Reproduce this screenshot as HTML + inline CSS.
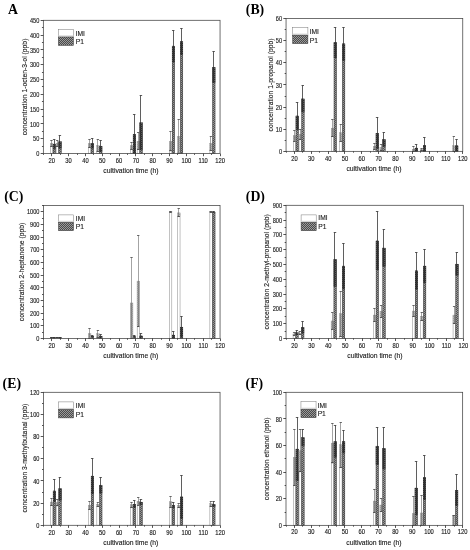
<!DOCTYPE html><html><head><meta charset="utf-8"><title>Figure</title><style>html,body{margin:0;padding:0;background:#fff}svg{display:block}text{font-family:"Liberation Sans",Arial,sans-serif;fill:#1a1a1a;stroke:#1a1a1a;stroke-width:0.12px}.pl{font-family:"Liberation Serif","Times New Roman",serif;font-weight:bold;fill:#000;stroke:none}</style></head><body>
<svg width="470" height="550" viewBox="0 0 470 550">
<defs>
<pattern id="hm" width="2" height="2" patternUnits="userSpaceOnUse"><path d="M0 0h1v1h-1zM1 1h1v1h-1z" fill="#969696"/></pattern>
<pattern id="hd" width="2" height="2" patternUnits="userSpaceOnUse"><path d="M0 0h1v1h-1zM1 1h1v1h-1z" fill="#5a5a5a"/></pattern>
<pattern id="hl" width="2" height="2" patternUnits="userSpaceOnUse"><path d="M0 0h1v1h-1zM1 1h1v1h-1z" fill="#bababa"/></pattern>
<pattern id="hg" width="2" height="2" patternUnits="userSpaceOnUse"><path d="M0 0h1v1h-1zM1 1h1v1h-1z" fill="#9a9a9a"/></pattern>
</defs>
<rect width="470" height="550" fill="#fff"/>
<g id="panelA">
<rect x="50.4" y="146.19" width="2.35" height="7.41" fill="#fff" stroke="#787878" stroke-width="0.45"/>
<rect x="50.25" y="143.53" width="2.65" height="2.67" fill="#a0a0a0"/>
<rect x="50.25" y="143.53" width="2.65" height="2.67" fill="url(#hl)" stroke="#8a8a8a" stroke-width="0.3"/>
<path d="M51.5 146.19V140.5" stroke="#666" stroke-width="0.6" fill="none"/>
<path d="M50.25 140.5H52.65M50.25 146.5H52.65" stroke="#333" stroke-width="0.7" fill="none"/>
<rect x="53" y="144.12" width="2.65" height="9.48" fill="#525252"/>
<rect x="53.1" y="144.12" width="2.45" height="9.48" fill="url(#hm)" stroke="#3a3a3a" stroke-width="0.4"/>
<rect x="52.9" y="144.12" width="2.85" height="4.44" fill="#2c2c2c"/>
<rect x="53" y="144.12" width="2.65" height="4.44" fill="url(#hd)"/>
<path d="M54.5 148.56V139.5" stroke="#2a2a2a" stroke-width="0.75" fill="none"/>
<path d="M52.9 139.5H55.4" stroke="#2a2a2a" stroke-width="0.75" fill="none"/>
<rect x="56.11" y="146.19" width="2.35" height="7.41" fill="#fff" stroke="#787878" stroke-width="0.45"/>
<rect x="55.96" y="143.23" width="2.65" height="2.96" fill="#a0a0a0"/>
<rect x="55.96" y="143.23" width="2.65" height="2.96" fill="url(#hl)" stroke="#8a8a8a" stroke-width="0.3"/>
<path d="M57.5 146.19V140.5" stroke="#666" stroke-width="0.6" fill="none"/>
<path d="M55.96 140.5H58.36M55.96 146.5H58.36" stroke="#333" stroke-width="0.7" fill="none"/>
<rect x="58.71" y="141.75" width="2.65" height="11.85" fill="#525252"/>
<rect x="58.81" y="141.75" width="2.45" height="11.85" fill="url(#hm)" stroke="#3a3a3a" stroke-width="0.4"/>
<rect x="58.61" y="141.75" width="2.85" height="6.52" fill="#2c2c2c"/>
<rect x="58.71" y="141.75" width="2.65" height="6.52" fill="url(#hd)"/>
<path d="M59.5 148.27V135.5" stroke="#2a2a2a" stroke-width="0.75" fill="none"/>
<path d="M58.61 135.5H61.11" stroke="#2a2a2a" stroke-width="0.75" fill="none"/>
<rect x="88.42" y="147.53" width="2.35" height="6.07" fill="#fff" stroke="#787878" stroke-width="0.45"/>
<rect x="88.27" y="143.53" width="2.65" height="4" fill="#a0a0a0"/>
<rect x="88.27" y="143.53" width="2.65" height="4" fill="url(#hl)" stroke="#8a8a8a" stroke-width="0.3"/>
<path d="M89.5 147.53V139.5" stroke="#666" stroke-width="0.6" fill="none"/>
<path d="M88.27 139.5H90.67M88.27 147.5H90.67" stroke="#333" stroke-width="0.7" fill="none"/>
<rect x="91.02" y="143.53" width="2.65" height="10.07" fill="#525252"/>
<rect x="91.12" y="143.53" width="2.45" height="10.07" fill="url(#hm)" stroke="#3a3a3a" stroke-width="0.4"/>
<rect x="90.92" y="143.53" width="2.85" height="4.74" fill="#2c2c2c"/>
<rect x="91.02" y="143.53" width="2.65" height="4.74" fill="url(#hd)"/>
<path d="M92.5 148.27V138.5" stroke="#2a2a2a" stroke-width="0.75" fill="none"/>
<path d="M90.92 138.5H93.42" stroke="#2a2a2a" stroke-width="0.75" fill="none"/>
<rect x="96.83" y="151.53" width="2.35" height="2.07" fill="#fff" stroke="#787878" stroke-width="0.45"/>
<rect x="96.68" y="145.6" width="2.65" height="5.92" fill="#a0a0a0"/>
<rect x="96.68" y="145.6" width="2.65" height="5.92" fill="url(#hl)" stroke="#8a8a8a" stroke-width="0.3"/>
<path d="M97.5 151.53V139.5" stroke="#666" stroke-width="0.6" fill="none"/>
<path d="M96.68 139.5H99.08M96.68 151.5H99.08" stroke="#333" stroke-width="0.7" fill="none"/>
<rect x="99.43" y="146.19" width="2.65" height="7.41" fill="#525252"/>
<rect x="99.53" y="146.19" width="2.45" height="7.41" fill="url(#hm)" stroke="#3a3a3a" stroke-width="0.4"/>
<rect x="99.33" y="146.19" width="2.85" height="5.63" fill="#2c2c2c"/>
<rect x="99.43" y="146.19" width="2.65" height="5.63" fill="url(#hd)"/>
<path d="M100.5 151.82V140.5" stroke="#2a2a2a" stroke-width="0.75" fill="none"/>
<path d="M99.33 140.5H101.83" stroke="#2a2a2a" stroke-width="0.75" fill="none"/>
<rect x="130.45" y="149.16" width="2.35" height="4.44" fill="#fff" stroke="#787878" stroke-width="0.45"/>
<rect x="130.3" y="145.6" width="2.65" height="3.55" fill="#a0a0a0"/>
<rect x="130.3" y="145.6" width="2.65" height="3.55" fill="url(#hl)" stroke="#8a8a8a" stroke-width="0.3"/>
<path d="M131.5 149.16V142.5" stroke="#666" stroke-width="0.6" fill="none"/>
<path d="M130.3 142.5H132.7M130.3 149.5H132.7" stroke="#333" stroke-width="0.7" fill="none"/>
<rect x="133.05" y="134.35" width="2.65" height="19.25" fill="#525252"/>
<rect x="133.15" y="134.35" width="2.45" height="19.25" fill="url(#hm)" stroke="#3a3a3a" stroke-width="0.4"/>
<rect x="132.95" y="134.35" width="2.85" height="19.25" fill="#2c2c2c"/>
<rect x="133.05" y="134.35" width="2.65" height="19.25" fill="url(#hd)"/>
<path d="M134.5 153.6V114.5" stroke="#2a2a2a" stroke-width="0.75" fill="none"/>
<path d="M132.95 114.5H135.45" stroke="#2a2a2a" stroke-width="0.75" fill="none"/>
<rect x="137.15" y="149.45" width="2.35" height="4.15" fill="#fff" stroke="#787878" stroke-width="0.45"/>
<rect x="137" y="141.16" width="2.65" height="8.29" fill="#a0a0a0"/>
<rect x="137" y="141.16" width="2.65" height="8.29" fill="url(#hl)" stroke="#8a8a8a" stroke-width="0.3"/>
<path d="M138.5 149.45V132.5" stroke="#666" stroke-width="0.6" fill="none"/>
<path d="M137 132.5H139.4M137 149.5H139.4" stroke="#333" stroke-width="0.7" fill="none"/>
<rect x="139.75" y="122.79" width="2.65" height="30.81" fill="#525252"/>
<rect x="139.85" y="122.79" width="2.45" height="30.81" fill="url(#hm)" stroke="#3a3a3a" stroke-width="0.4"/>
<rect x="139.65" y="122.79" width="2.85" height="27.25" fill="#2c2c2c"/>
<rect x="139.75" y="122.79" width="2.65" height="27.25" fill="url(#hd)"/>
<path d="M140.5 150.05V95.5" stroke="#2a2a2a" stroke-width="0.75" fill="none"/>
<path d="M139.65 95.5H142.15" stroke="#2a2a2a" stroke-width="0.75" fill="none"/>
<rect x="169.47" y="150.93" width="2.35" height="2.67" fill="#fff" stroke="#787878" stroke-width="0.45"/>
<rect x="169.32" y="141.45" width="2.65" height="9.48" fill="#a0a0a0"/>
<rect x="169.32" y="141.45" width="2.65" height="9.48" fill="url(#hl)" stroke="#8a8a8a" stroke-width="0.3"/>
<path d="M170.5 150.93V131.5" stroke="#666" stroke-width="0.6" fill="none"/>
<path d="M169.32 131.5H171.72M169.32 150.5H171.72" stroke="#333" stroke-width="0.7" fill="none"/>
<rect x="172.07" y="46.07" width="2.65" height="107.53" fill="#525252"/>
<rect x="172.17" y="46.07" width="2.45" height="107.53" fill="url(#hm)" stroke="#3a3a3a" stroke-width="0.4"/>
<rect x="171.97" y="46.07" width="2.85" height="16" fill="#2c2c2c"/>
<rect x="172.07" y="46.07" width="2.65" height="16" fill="url(#hd)"/>
<path d="M173.5 62.07V30.5" stroke="#2a2a2a" stroke-width="0.75" fill="none"/>
<path d="M171.97 30.5H174.47" stroke="#2a2a2a" stroke-width="0.75" fill="none"/>
<rect x="177.67" y="153.01" width="2.35" height="0.59" fill="#fff" stroke="#787878" stroke-width="0.45"/>
<rect x="177.52" y="136.42" width="2.65" height="16.59" fill="#a0a0a0"/>
<rect x="177.52" y="136.42" width="2.65" height="16.59" fill="url(#hl)" stroke="#8a8a8a" stroke-width="0.3"/>
<path d="M178.5 153.01V119.5" stroke="#666" stroke-width="0.6" fill="none"/>
<path d="M177.52 119.5H179.92M177.52 153.5H179.92" stroke="#333" stroke-width="0.7" fill="none"/>
<rect x="180.27" y="41.63" width="2.65" height="111.97" fill="#525252"/>
<rect x="180.37" y="41.63" width="2.45" height="111.97" fill="url(#hm)" stroke="#3a3a3a" stroke-width="0.4"/>
<rect x="180.17" y="41.63" width="2.85" height="13.33" fill="#2c2c2c"/>
<rect x="180.27" y="41.63" width="2.65" height="13.33" fill="url(#hd)"/>
<path d="M181.5 54.96V28.5" stroke="#2a2a2a" stroke-width="0.75" fill="none"/>
<path d="M180.17 28.5H182.67" stroke="#2a2a2a" stroke-width="0.75" fill="none"/>
<rect x="209.89" y="150.64" width="2.35" height="2.96" fill="#fff" stroke="#787878" stroke-width="0.45"/>
<rect x="209.74" y="143.53" width="2.65" height="7.11" fill="#a0a0a0"/>
<rect x="209.74" y="143.53" width="2.65" height="7.11" fill="url(#hl)" stroke="#8a8a8a" stroke-width="0.3"/>
<path d="M210.5 150.64V136.5" stroke="#666" stroke-width="0.6" fill="none"/>
<path d="M209.74 136.5H212.14M209.74 150.5H212.14" stroke="#333" stroke-width="0.7" fill="none"/>
<rect x="212.49" y="67.4" width="2.65" height="86.2" fill="#525252"/>
<rect x="212.59" y="67.4" width="2.45" height="86.2" fill="url(#hm)" stroke="#3a3a3a" stroke-width="0.4"/>
<rect x="212.39" y="67.4" width="2.85" height="15.4" fill="#2c2c2c"/>
<rect x="212.49" y="67.4" width="2.65" height="15.4" fill="url(#hd)"/>
<path d="M213.5 82.8V51.5" stroke="#2a2a2a" stroke-width="0.75" fill="none"/>
<path d="M212.39 51.5H214.89" stroke="#2a2a2a" stroke-width="0.75" fill="none"/>
<rect x="43.35" y="20.3" width="176.7" height="133.3" fill="none" stroke="#484848" stroke-width="0.78"/>
<text transform="translate(39.35 156.2) scale(0.97 1.1)" font-size="5.8" text-anchor="end">0</text>
<text transform="translate(39.35 141.39) scale(0.97 1.1)" font-size="5.8" text-anchor="end">50</text>
<text transform="translate(39.35 126.57) scale(0.97 1.1)" font-size="5.8" text-anchor="end">100</text>
<text transform="translate(39.35 111.76) scale(0.97 1.1)" font-size="5.8" text-anchor="end">150</text>
<text transform="translate(39.35 96.95) scale(0.97 1.1)" font-size="5.8" text-anchor="end">200</text>
<text transform="translate(39.35 82.14) scale(0.97 1.1)" font-size="5.8" text-anchor="end">250</text>
<text transform="translate(39.35 67.33) scale(0.97 1.1)" font-size="5.8" text-anchor="end">300</text>
<text transform="translate(39.35 52.52) scale(0.97 1.1)" font-size="5.8" text-anchor="end">350</text>
<text transform="translate(39.35 37.71) scale(0.97 1.1)" font-size="5.8" text-anchor="end">400</text>
<text transform="translate(39.35 22.9) scale(0.97 1.1)" font-size="5.8" text-anchor="end">450</text>
<text transform="translate(51.76 162.85) scale(1 1.15)" font-size="5.8" text-anchor="middle">20</text>
<text transform="translate(68.59 162.85) scale(1 1.15)" font-size="5.8" text-anchor="middle">30</text>
<text transform="translate(85.42 162.85) scale(1 1.15)" font-size="5.8" text-anchor="middle">40</text>
<text transform="translate(102.25 162.85) scale(1 1.15)" font-size="5.8" text-anchor="middle">50</text>
<text transform="translate(119.08 162.85) scale(1 1.15)" font-size="5.8" text-anchor="middle">60</text>
<text transform="translate(135.91 162.85) scale(1 1.15)" font-size="5.8" text-anchor="middle">70</text>
<text transform="translate(152.74 162.85) scale(1 1.15)" font-size="5.8" text-anchor="middle">80</text>
<text transform="translate(169.56 162.85) scale(1 1.15)" font-size="5.8" text-anchor="middle">90</text>
<text transform="translate(186.39 162.85) scale(1 1.15)" font-size="5.8" text-anchor="middle">100</text>
<text transform="translate(203.22 162.85) scale(1 1.15)" font-size="5.8" text-anchor="middle">110</text>
<text transform="translate(220.05 162.85) scale(1 1.15)" font-size="5.8" text-anchor="middle">120</text>
<path d="M40.65 153.5H43.35M41.95 146.5H43.35M40.65 138.5H43.35M41.95 131.5H43.35M40.65 123.5H43.35M41.95 116.5H43.35M40.65 109.5H43.35M41.95 101.5H43.35M40.65 94.5H43.35M41.95 86.5H43.35M40.65 79.5H43.35M41.95 72.5H43.35M40.65 64.5H43.35M41.95 57.5H43.35M40.65 49.5H43.35M41.95 42.5H43.35M40.65 35.5H43.35M41.95 27.5H43.35M40.65 20.5H43.35M51.5 153.6V156.2M43.5 153.6V154.9M68.5 153.6V156.2M60.5 153.6V154.9M85.5 153.6V156.2M77.5 153.6V154.9M102.5 153.6V156.2M93.5 153.6V154.9M119.5 153.6V156.2M110.5 153.6V154.9M135.5 153.6V156.2M127.5 153.6V154.9M152.5 153.6V156.2M144.5 153.6V154.9M169.5 153.6V156.2M161.5 153.6V154.9M186.5 153.6V156.2M177.5 153.6V154.9M203.5 153.6V156.2M194.5 153.6V154.9M220.5 153.6V156.2M211.5 153.6V154.9" stroke="#2a2a2a" stroke-width="0.8" fill="none"/>
<text x="130.9" y="173" font-size="6.8" text-anchor="middle">cultivation time (h)</text>
<text transform="translate(27.3 86.95) rotate(-90)" font-size="6.8" text-anchor="middle">concentration 1-octen-3-ol (ppb)</text>
<rect x="58.4" y="29.4" width="15" height="7.6" fill="#fff" stroke="#777" stroke-width="0.5"/>
<rect x="58.4" y="35.4" width="15" height="1.4" fill="#d4d4d4"/>
<rect x="58.4" y="37" width="15" height="8.4" fill="#4a4a4a"/>
<rect x="58.4" y="37" width="15" height="8.4" fill="url(#hg)" stroke="#444" stroke-width="0.5"/>
<text x="75.7" y="35.8" font-size="6.7">IMI</text>
<text x="75.7" y="44.4" font-size="6.7">P1</text>
<text class="pl" transform="translate(7.9 14.1) scale(1 1.08)" font-size="13.8">A</text>
</g>
<g id="panelB">
<rect x="293.3" y="141.17" width="2.35" height="10.18" fill="#fff" stroke="#787878" stroke-width="0.45"/>
<rect x="293.15" y="135.64" width="2.65" height="5.53" fill="#a0a0a0"/>
<rect x="293.15" y="135.64" width="2.65" height="5.53" fill="url(#hl)" stroke="#8a8a8a" stroke-width="0.3"/>
<path d="M294.5 141.17V130.5" stroke="#666" stroke-width="0.6" fill="none"/>
<path d="M293.15 130.5H295.55M293.15 141.5H295.55" stroke="#333" stroke-width="0.7" fill="none"/>
<rect x="295.9" y="115.95" width="2.65" height="35.4" fill="#525252"/>
<rect x="296" y="115.95" width="2.45" height="35.4" fill="url(#hm)" stroke="#3a3a3a" stroke-width="0.4"/>
<rect x="295.8" y="115.95" width="2.85" height="13.72" fill="#2c2c2c"/>
<rect x="295.9" y="115.95" width="2.65" height="13.72" fill="url(#hd)"/>
<path d="M297.5 129.67V102.5" stroke="#2a2a2a" stroke-width="0.75" fill="none"/>
<path d="M295.8 102.5H298.3" stroke="#2a2a2a" stroke-width="0.75" fill="none"/>
<rect x="299.01" y="139.62" width="2.35" height="11.73" fill="#fff" stroke="#787878" stroke-width="0.45"/>
<rect x="298.86" y="134.31" width="2.65" height="5.31" fill="#a0a0a0"/>
<rect x="298.86" y="134.31" width="2.65" height="5.31" fill="url(#hl)" stroke="#8a8a8a" stroke-width="0.3"/>
<path d="M300.5 139.62V129.5" stroke="#666" stroke-width="0.6" fill="none"/>
<path d="M298.86 129.5H301.26M298.86 139.5H301.26" stroke="#333" stroke-width="0.7" fill="none"/>
<rect x="301.61" y="98.91" width="2.65" height="52.44" fill="#525252"/>
<rect x="301.71" y="98.91" width="2.45" height="52.44" fill="url(#hm)" stroke="#3a3a3a" stroke-width="0.4"/>
<rect x="301.51" y="98.91" width="2.85" height="13.28" fill="#2c2c2c"/>
<rect x="301.61" y="98.91" width="2.65" height="13.28" fill="url(#hd)"/>
<path d="M302.5 112.19V85.5" stroke="#2a2a2a" stroke-width="0.75" fill="none"/>
<path d="M301.51 85.5H304.01" stroke="#2a2a2a" stroke-width="0.75" fill="none"/>
<rect x="331.32" y="136.75" width="2.35" height="14.6" fill="#fff" stroke="#787878" stroke-width="0.45"/>
<rect x="331.17" y="128.12" width="2.65" height="8.63" fill="#a0a0a0"/>
<rect x="331.17" y="128.12" width="2.65" height="8.63" fill="url(#hl)" stroke="#8a8a8a" stroke-width="0.3"/>
<path d="M332.5 136.75V119.5" stroke="#666" stroke-width="0.6" fill="none"/>
<path d="M331.17 119.5H333.57M331.17 136.5H333.57" stroke="#333" stroke-width="0.7" fill="none"/>
<rect x="333.92" y="42.49" width="2.65" height="108.86" fill="#525252"/>
<rect x="334.02" y="42.49" width="2.45" height="108.86" fill="url(#hm)" stroke="#3a3a3a" stroke-width="0.4"/>
<rect x="333.82" y="42.49" width="2.85" height="15.49" fill="#2c2c2c"/>
<rect x="333.92" y="42.49" width="2.65" height="15.49" fill="url(#hd)"/>
<path d="M335.5 57.98V27.5" stroke="#2a2a2a" stroke-width="0.75" fill="none"/>
<path d="M333.82 27.5H336.32" stroke="#2a2a2a" stroke-width="0.75" fill="none"/>
<rect x="339.73" y="141.17" width="2.35" height="10.18" fill="#fff" stroke="#787878" stroke-width="0.45"/>
<rect x="339.58" y="132.76" width="2.65" height="8.41" fill="#a0a0a0"/>
<rect x="339.58" y="132.76" width="2.65" height="8.41" fill="url(#hl)" stroke="#8a8a8a" stroke-width="0.3"/>
<path d="M340.5 141.17V124.5" stroke="#666" stroke-width="0.6" fill="none"/>
<path d="M339.58 124.5H341.98M339.58 141.5H341.98" stroke="#333" stroke-width="0.7" fill="none"/>
<rect x="342.33" y="43.82" width="2.65" height="107.53" fill="#525252"/>
<rect x="342.43" y="43.82" width="2.45" height="107.53" fill="url(#hm)" stroke="#3a3a3a" stroke-width="0.4"/>
<rect x="342.23" y="43.82" width="2.85" height="16.82" fill="#2c2c2c"/>
<rect x="342.33" y="43.82" width="2.65" height="16.82" fill="url(#hd)"/>
<path d="M343.5 60.64V27.5" stroke="#2a2a2a" stroke-width="0.75" fill="none"/>
<path d="M342.23 27.5H344.73" stroke="#2a2a2a" stroke-width="0.75" fill="none"/>
<rect x="373.35" y="149.36" width="2.35" height="1.99" fill="#fff" stroke="#787878" stroke-width="0.45"/>
<rect x="373.2" y="146.26" width="2.65" height="3.1" fill="#a0a0a0"/>
<rect x="373.2" y="146.26" width="2.65" height="3.1" fill="url(#hl)" stroke="#8a8a8a" stroke-width="0.3"/>
<path d="M374.5 149.36V143.5" stroke="#666" stroke-width="0.6" fill="none"/>
<path d="M373.2 143.5H375.6M373.2 149.5H375.6" stroke="#333" stroke-width="0.7" fill="none"/>
<rect x="375.95" y="133.21" width="2.65" height="18.14" fill="#525252"/>
<rect x="376.05" y="133.21" width="2.45" height="18.14" fill="url(#hm)" stroke="#3a3a3a" stroke-width="0.4"/>
<rect x="375.85" y="133.21" width="2.85" height="15.27" fill="#2c2c2c"/>
<rect x="375.95" y="133.21" width="2.65" height="15.27" fill="url(#hd)"/>
<path d="M377.5 148.47V117.5" stroke="#2a2a2a" stroke-width="0.75" fill="none"/>
<path d="M375.85 117.5H378.35" stroke="#2a2a2a" stroke-width="0.75" fill="none"/>
<rect x="380.05" y="150.47" width="2.35" height="0.88" fill="#fff" stroke="#787878" stroke-width="0.45"/>
<rect x="379.9" y="147.37" width="2.65" height="3.1" fill="#a0a0a0"/>
<rect x="379.9" y="147.37" width="2.65" height="3.1" fill="url(#hl)" stroke="#8a8a8a" stroke-width="0.3"/>
<path d="M381.5 150.47V144.5" stroke="#666" stroke-width="0.6" fill="none"/>
<path d="M379.9 144.5H382.3M379.9 150.5H382.3" stroke="#333" stroke-width="0.7" fill="none"/>
<rect x="382.65" y="139.62" width="2.65" height="11.73" fill="#525252"/>
<rect x="382.75" y="139.62" width="2.45" height="11.73" fill="url(#hm)" stroke="#3a3a3a" stroke-width="0.4"/>
<rect x="382.55" y="139.62" width="2.85" height="7.08" fill="#2c2c2c"/>
<rect x="382.65" y="139.62" width="2.65" height="7.08" fill="url(#hd)"/>
<path d="M383.5 146.7V132.5" stroke="#2a2a2a" stroke-width="0.75" fill="none"/>
<path d="M382.55 132.5H385.05" stroke="#2a2a2a" stroke-width="0.75" fill="none"/>
<rect x="412.22" y="149.14" width="2.65" height="2.21" fill="#a0a0a0"/>
<rect x="412.22" y="149.14" width="2.65" height="2.21" fill="url(#hl)" stroke="#8a8a8a" stroke-width="0.3"/>
<path d="M413.5 151.35V146.5" stroke="#666" stroke-width="0.6" fill="none"/>
<path d="M412.22 146.5H414.62M412.22 151.5H414.62" stroke="#333" stroke-width="0.7" fill="none"/>
<rect x="414.97" y="148.03" width="2.65" height="3.32" fill="#525252"/>
<rect x="415.07" y="148.03" width="2.45" height="3.32" fill="url(#hm)" stroke="#3a3a3a" stroke-width="0.4"/>
<rect x="414.87" y="148.03" width="2.85" height="3.32" fill="#2c2c2c"/>
<rect x="414.97" y="148.03" width="2.65" height="3.32" fill="url(#hd)"/>
<path d="M416.5 151.35V144.5" stroke="#2a2a2a" stroke-width="0.75" fill="none"/>
<path d="M414.87 144.5H417.37" stroke="#2a2a2a" stroke-width="0.75" fill="none"/>
<rect x="420.57" y="150.91" width="2.35" height="0.44" fill="#fff" stroke="#787878" stroke-width="0.45"/>
<rect x="420.42" y="149.58" width="2.65" height="1.33" fill="#a0a0a0"/>
<rect x="420.42" y="149.58" width="2.65" height="1.33" fill="url(#hl)" stroke="#8a8a8a" stroke-width="0.3"/>
<path d="M421.5 150.91V148.5" stroke="#666" stroke-width="0.6" fill="none"/>
<path d="M420.42 148.5H422.82M420.42 150.5H422.82" stroke="#333" stroke-width="0.7" fill="none"/>
<rect x="423.17" y="145.38" width="2.65" height="5.97" fill="#525252"/>
<rect x="423.27" y="145.38" width="2.45" height="5.97" fill="url(#hm)" stroke="#3a3a3a" stroke-width="0.4"/>
<rect x="423.07" y="145.38" width="2.85" height="5.97" fill="#2c2c2c"/>
<rect x="423.17" y="145.38" width="2.65" height="5.97" fill="url(#hd)"/>
<path d="M424.5 151.35V137.5" stroke="#2a2a2a" stroke-width="0.75" fill="none"/>
<path d="M423.07 137.5H425.57" stroke="#2a2a2a" stroke-width="0.75" fill="none"/>
<rect x="452.64" y="145.82" width="2.65" height="5.53" fill="#a0a0a0"/>
<rect x="452.64" y="145.82" width="2.65" height="5.53" fill="url(#hl)" stroke="#8a8a8a" stroke-width="0.3"/>
<path d="M453.5 151.35V136.5" stroke="#666" stroke-width="0.6" fill="none"/>
<path d="M452.64 136.5H455.04M452.64 151.5H455.04" stroke="#333" stroke-width="0.7" fill="none"/>
<rect x="455.39" y="145.82" width="2.65" height="5.53" fill="#525252"/>
<rect x="455.49" y="145.82" width="2.45" height="5.53" fill="url(#hm)" stroke="#3a3a3a" stroke-width="0.4"/>
<rect x="455.29" y="145.82" width="2.85" height="5.53" fill="#2c2c2c"/>
<rect x="455.39" y="145.82" width="2.65" height="5.53" fill="url(#hd)"/>
<path d="M456.5 151.35V139.5" stroke="#2a2a2a" stroke-width="0.75" fill="none"/>
<path d="M455.29 139.5H457.79" stroke="#2a2a2a" stroke-width="0.75" fill="none"/>
<rect x="286.05" y="18.6" width="176.7" height="132.75" fill="none" stroke="#484848" stroke-width="0.78"/>
<text transform="translate(282.05 153.95) scale(0.97 1.1)" font-size="5.8" text-anchor="end">0</text>
<text transform="translate(282.05 131.82) scale(0.97 1.1)" font-size="5.8" text-anchor="end">10</text>
<text transform="translate(282.05 109.7) scale(0.97 1.1)" font-size="5.8" text-anchor="end">20</text>
<text transform="translate(282.05 87.57) scale(0.97 1.1)" font-size="5.8" text-anchor="end">30</text>
<text transform="translate(282.05 65.45) scale(0.97 1.1)" font-size="5.8" text-anchor="end">40</text>
<text transform="translate(282.05 43.32) scale(0.97 1.1)" font-size="5.8" text-anchor="end">50</text>
<text transform="translate(282.05 21.2) scale(0.97 1.1)" font-size="5.8" text-anchor="end">60</text>
<text transform="translate(294.46 160.6) scale(1 1.15)" font-size="5.8" text-anchor="middle">20</text>
<text transform="translate(311.29 160.6) scale(1 1.15)" font-size="5.8" text-anchor="middle">30</text>
<text transform="translate(328.12 160.6) scale(1 1.15)" font-size="5.8" text-anchor="middle">40</text>
<text transform="translate(344.95 160.6) scale(1 1.15)" font-size="5.8" text-anchor="middle">50</text>
<text transform="translate(361.78 160.6) scale(1 1.15)" font-size="5.8" text-anchor="middle">60</text>
<text transform="translate(378.61 160.6) scale(1 1.15)" font-size="5.8" text-anchor="middle">70</text>
<text transform="translate(395.44 160.6) scale(1 1.15)" font-size="5.8" text-anchor="middle">80</text>
<text transform="translate(412.26 160.6) scale(1 1.15)" font-size="5.8" text-anchor="middle">90</text>
<text transform="translate(429.09 160.6) scale(1 1.15)" font-size="5.8" text-anchor="middle">100</text>
<text transform="translate(445.92 160.6) scale(1 1.15)" font-size="5.8" text-anchor="middle">110</text>
<text transform="translate(462.75 160.6) scale(1 1.15)" font-size="5.8" text-anchor="middle">120</text>
<path d="M283.35 151.5H286.05M284.65 140.5H286.05M283.35 129.5H286.05M284.65 118.5H286.05M283.35 107.5H286.05M284.65 96.5H286.05M283.35 84.5H286.05M284.65 73.5H286.05M283.35 62.5H286.05M284.65 51.5H286.05M283.35 40.5H286.05M284.65 29.5H286.05M283.35 18.5H286.05M294.5 151.35V153.95M286.5 151.35V152.65M311.5 151.35V153.95M302.5 151.35V152.65M328.5 151.35V153.95M319.5 151.35V152.65M344.5 151.35V153.95M336.5 151.35V152.65M361.5 151.35V153.95M353.5 151.35V152.65M378.5 151.35V153.95M370.5 151.35V152.65M395.5 151.35V153.95M387.5 151.35V152.65M412.5 151.35V153.95M403.5 151.35V152.65M429.5 151.35V153.95M420.5 151.35V152.65M445.5 151.35V153.95M437.5 151.35V152.65M462.5 151.35V153.95M454.5 151.35V152.65" stroke="#2a2a2a" stroke-width="0.8" fill="none"/>
<text x="374" y="170.75" font-size="6.8" text-anchor="middle">cultivation time (h)</text>
<text transform="translate(272.6 84.97) rotate(-90)" font-size="6.8" text-anchor="middle">concentration 1-propanol (ppb)</text>
<rect x="292.7" y="27.6" width="15.2" height="7.6" fill="#fff" stroke="#777" stroke-width="0.5"/>
<rect x="292.7" y="33.6" width="15.2" height="1.4" fill="#d4d4d4"/>
<rect x="292.7" y="35.2" width="15.2" height="8.4" fill="#4a4a4a"/>
<rect x="292.7" y="35.2" width="15.2" height="8.4" fill="url(#hg)" stroke="#444" stroke-width="0.5"/>
<text x="309.7" y="34.1" font-size="6.7">IMI</text>
<text x="309.7" y="42.7" font-size="6.7">P1</text>
<text class="pl" transform="translate(245.8 13.7) scale(1 1.08)" font-size="13.8">(B)</text>
</g>
<g id="panelC">
<rect x="50.45" y="337.69" width="2.35" height="0.76" fill="#fff" stroke="#787878" stroke-width="0.45"/>
<rect x="50.3" y="337.56" width="2.65" height="0.13" fill="#a0a0a0"/>
<rect x="50.3" y="337.56" width="2.65" height="0.13" fill="url(#hl)" stroke="#8a8a8a" stroke-width="0.3"/>
<path d="M51.5 337.69V337.5" stroke="#666" stroke-width="0.6" fill="none"/>
<path d="M50.3 337.5H52.7M50.3 337.5H52.7" stroke="#333" stroke-width="0.7" fill="none"/>
<rect x="53.05" y="337.56" width="2.65" height="0.89" fill="#525252"/>
<rect x="53.15" y="337.56" width="2.45" height="0.89" fill="url(#hm)" stroke="#3a3a3a" stroke-width="0.4"/>
<rect x="52.95" y="337.56" width="2.85" height="0.13" fill="#2c2c2c"/>
<rect x="53.05" y="337.56" width="2.65" height="0.13" fill="url(#hd)"/>
<path d="M54.5 337.69V337.5" stroke="#2a2a2a" stroke-width="0.75" fill="none"/>
<path d="M52.95 337.5H55.45" stroke="#2a2a2a" stroke-width="0.75" fill="none"/>
<rect x="56.15" y="337.69" width="2.35" height="0.76" fill="#fff" stroke="#787878" stroke-width="0.45"/>
<rect x="56" y="337.56" width="2.65" height="0.13" fill="#a0a0a0"/>
<rect x="56" y="337.56" width="2.65" height="0.13" fill="url(#hl)" stroke="#8a8a8a" stroke-width="0.3"/>
<path d="M57.5 337.69V337.5" stroke="#666" stroke-width="0.6" fill="none"/>
<path d="M56 337.5H58.4M56 337.5H58.4" stroke="#333" stroke-width="0.7" fill="none"/>
<rect x="58.75" y="337.56" width="2.65" height="0.89" fill="#525252"/>
<rect x="58.85" y="337.56" width="2.45" height="0.89" fill="url(#hm)" stroke="#3a3a3a" stroke-width="0.4"/>
<rect x="58.65" y="337.56" width="2.85" height="0.13" fill="#2c2c2c"/>
<rect x="58.75" y="337.56" width="2.65" height="0.13" fill="url(#hd)"/>
<path d="M59.5 337.69V337.5" stroke="#2a2a2a" stroke-width="0.75" fill="none"/>
<path d="M58.65 337.5H61.15" stroke="#2a2a2a" stroke-width="0.75" fill="none"/>
<rect x="88.31" y="333.63" width="2.65" height="4.82" fill="#a0a0a0"/>
<rect x="88.31" y="333.63" width="2.65" height="4.82" fill="url(#hl)" stroke="#8a8a8a" stroke-width="0.3"/>
<path d="M89.5 338.45V328.5" stroke="#666" stroke-width="0.6" fill="none"/>
<path d="M88.31 328.5H90.71M88.31 338.5H90.71" stroke="#333" stroke-width="0.7" fill="none"/>
<rect x="91.06" y="336.17" width="2.65" height="2.28" fill="#525252"/>
<rect x="91.16" y="336.17" width="2.45" height="2.28" fill="url(#hm)" stroke="#3a3a3a" stroke-width="0.4"/>
<rect x="90.96" y="336.17" width="2.85" height="1.01" fill="#2c2c2c"/>
<rect x="91.06" y="336.17" width="2.65" height="1.01" fill="url(#hd)"/>
<path d="M92.5 337.18V335.5" stroke="#2a2a2a" stroke-width="0.75" fill="none"/>
<path d="M90.96 335.5H93.46" stroke="#2a2a2a" stroke-width="0.75" fill="none"/>
<rect x="96.86" y="337.44" width="2.35" height="1.01" fill="#fff" stroke="#787878" stroke-width="0.45"/>
<rect x="96.71" y="333.76" width="2.65" height="3.67" fill="#a0a0a0"/>
<rect x="96.71" y="333.76" width="2.65" height="3.67" fill="url(#hl)" stroke="#8a8a8a" stroke-width="0.3"/>
<path d="M97.5 337.44V330.5" stroke="#666" stroke-width="0.6" fill="none"/>
<path d="M96.71 330.5H99.11M96.71 337.5H99.11" stroke="#333" stroke-width="0.7" fill="none"/>
<rect x="99.46" y="336.17" width="2.65" height="2.28" fill="#525252"/>
<rect x="99.56" y="336.17" width="2.45" height="2.28" fill="url(#hm)" stroke="#3a3a3a" stroke-width="0.4"/>
<rect x="99.36" y="336.17" width="2.85" height="1.9" fill="#2c2c2c"/>
<rect x="99.46" y="336.17" width="2.65" height="1.9" fill="url(#hd)"/>
<path d="M100.5 338.07V334.5" stroke="#2a2a2a" stroke-width="0.75" fill="none"/>
<path d="M99.36 334.5H101.86" stroke="#2a2a2a" stroke-width="0.75" fill="none"/>
<rect x="130.32" y="302.97" width="2.65" height="35.48" fill="#a0a0a0"/>
<rect x="130.32" y="302.97" width="2.65" height="35.48" fill="url(#hl)" stroke="#8a8a8a" stroke-width="0.3"/>
<path d="M131.5 338.45V257.5" stroke="#666" stroke-width="0.6" fill="none"/>
<path d="M130.32 257.5H132.72M130.32 338.5H132.72" stroke="#333" stroke-width="0.7" fill="none"/>
<rect x="133.07" y="336.55" width="2.65" height="1.9" fill="#525252"/>
<rect x="133.17" y="336.55" width="2.45" height="1.9" fill="url(#hm)" stroke="#3a3a3a" stroke-width="0.4"/>
<rect x="132.97" y="336.55" width="2.85" height="0.63" fill="#2c2c2c"/>
<rect x="133.07" y="336.55" width="2.65" height="0.63" fill="url(#hd)"/>
<path d="M134.5 337.18V335.5" stroke="#2a2a2a" stroke-width="0.75" fill="none"/>
<path d="M132.97 335.5H135.47" stroke="#2a2a2a" stroke-width="0.75" fill="none"/>
<rect x="137.17" y="326.79" width="2.35" height="11.66" fill="#fff" stroke="#787878" stroke-width="0.45"/>
<rect x="137.02" y="281.05" width="2.65" height="45.74" fill="#a0a0a0"/>
<rect x="137.02" y="281.05" width="2.65" height="45.74" fill="url(#hl)" stroke="#8a8a8a" stroke-width="0.3"/>
<path d="M138.5 326.79V235.5" stroke="#666" stroke-width="0.6" fill="none"/>
<path d="M137.02 235.5H139.42M137.02 326.5H139.42" stroke="#333" stroke-width="0.7" fill="none"/>
<rect x="139.77" y="335.92" width="2.65" height="2.53" fill="#525252"/>
<rect x="139.87" y="335.92" width="2.45" height="2.53" fill="url(#hm)" stroke="#3a3a3a" stroke-width="0.4"/>
<rect x="139.67" y="335.92" width="2.85" height="2.53" fill="#2c2c2c"/>
<rect x="139.77" y="335.92" width="2.65" height="2.53" fill="url(#hd)"/>
<path d="M140.5 338.45V333.5" stroke="#2a2a2a" stroke-width="0.75" fill="none"/>
<path d="M139.67 333.5H142.17" stroke="#2a2a2a" stroke-width="0.75" fill="none"/>
<rect x="169.48" y="212.12" width="2.35" height="126.33" fill="#fff" stroke="#787878" stroke-width="0.45"/>
<rect x="169.33" y="211.61" width="2.65" height="0.51" fill="#a0a0a0"/>
<rect x="169.33" y="211.61" width="2.65" height="0.51" fill="url(#hl)" stroke="#8a8a8a" stroke-width="0.3"/>
<path d="M170.5 212.12V211.5" stroke="#666" stroke-width="0.6" fill="none"/>
<path d="M169.33 211.5H171.73M169.33 212.5H171.73" stroke="#333" stroke-width="0.7" fill="none"/>
<rect x="172.08" y="335.03" width="2.65" height="3.42" fill="#525252"/>
<rect x="172.18" y="335.03" width="2.45" height="3.42" fill="url(#hm)" stroke="#3a3a3a" stroke-width="0.4"/>
<rect x="171.98" y="335.03" width="2.85" height="3.42" fill="#2c2c2c"/>
<rect x="172.08" y="335.03" width="2.65" height="3.42" fill="url(#hd)"/>
<path d="M173.5 338.45V331.5" stroke="#2a2a2a" stroke-width="0.75" fill="none"/>
<path d="M171.98 331.5H174.48" stroke="#2a2a2a" stroke-width="0.75" fill="none"/>
<rect x="177.68" y="216.8" width="2.35" height="121.65" fill="#fff" stroke="#787878" stroke-width="0.45"/>
<rect x="177.53" y="212.88" width="2.65" height="3.93" fill="#a0a0a0"/>
<rect x="177.53" y="212.88" width="2.65" height="3.93" fill="url(#hl)" stroke="#8a8a8a" stroke-width="0.3"/>
<path d="M178.5 216.8V208.5" stroke="#666" stroke-width="0.6" fill="none"/>
<path d="M177.53 208.5H179.93M177.53 216.5H179.93" stroke="#333" stroke-width="0.7" fill="none"/>
<rect x="180.28" y="327.17" width="2.65" height="11.28" fill="#525252"/>
<rect x="180.38" y="327.17" width="2.45" height="11.28" fill="url(#hm)" stroke="#3a3a3a" stroke-width="0.4"/>
<rect x="180.18" y="327.17" width="2.85" height="10.26" fill="#2c2c2c"/>
<rect x="180.28" y="327.17" width="2.65" height="10.26" fill="url(#hd)"/>
<path d="M181.5 337.44V316.5" stroke="#2a2a2a" stroke-width="0.75" fill="none"/>
<path d="M180.18 316.5H182.68" stroke="#2a2a2a" stroke-width="0.75" fill="none"/>
<rect x="209.89" y="212.12" width="2.35" height="126.33" fill="#fff" stroke="#787878" stroke-width="0.45"/>
<rect x="209.74" y="211.61" width="2.65" height="0.51" fill="#a0a0a0"/>
<rect x="209.74" y="211.61" width="2.65" height="0.51" fill="url(#hl)" stroke="#8a8a8a" stroke-width="0.3"/>
<path d="M210.5 212.12V211.5" stroke="#666" stroke-width="0.6" fill="none"/>
<path d="M209.74 211.5H212.14M209.74 212.5H212.14" stroke="#333" stroke-width="0.7" fill="none"/>
<rect x="212.49" y="212.12" width="2.65" height="126.33" fill="#525252"/>
<rect x="212.59" y="212.12" width="2.45" height="126.33" fill="url(#hm)" stroke="#3a3a3a" stroke-width="0.4"/>
<rect x="212.39" y="212.12" width="2.85" height="0.51" fill="#2c2c2c"/>
<rect x="212.49" y="212.12" width="2.65" height="0.51" fill="url(#hd)"/>
<path d="M213.5 212.62V211.5" stroke="#2a2a2a" stroke-width="0.75" fill="none"/>
<path d="M212.39 211.5H214.89" stroke="#2a2a2a" stroke-width="0.75" fill="none"/>
<rect x="43.4" y="205.4" width="176.65" height="133.05" fill="none" stroke="#484848" stroke-width="0.78"/>
<text transform="translate(39.4 341.05) scale(0.97 1.1)" font-size="5.8" text-anchor="end">0</text>
<text transform="translate(39.4 328.38) scale(0.97 1.1)" font-size="5.8" text-anchor="end">100</text>
<text transform="translate(39.4 315.7) scale(0.97 1.1)" font-size="5.8" text-anchor="end">200</text>
<text transform="translate(39.4 303.03) scale(0.97 1.1)" font-size="5.8" text-anchor="end">300</text>
<text transform="translate(39.4 290.36) scale(0.97 1.1)" font-size="5.8" text-anchor="end">400</text>
<text transform="translate(39.4 277.69) scale(0.97 1.1)" font-size="5.8" text-anchor="end">500</text>
<text transform="translate(39.4 265.02) scale(0.97 1.1)" font-size="5.8" text-anchor="end">600</text>
<text transform="translate(39.4 252.35) scale(0.97 1.1)" font-size="5.8" text-anchor="end">700</text>
<text transform="translate(39.4 239.68) scale(0.97 1.1)" font-size="5.8" text-anchor="end">800</text>
<text transform="translate(39.4 227) scale(0.97 1.1)" font-size="5.8" text-anchor="end">900</text>
<text transform="translate(39.4 214.33) scale(0.97 1.1)" font-size="5.8" text-anchor="end">1000</text>
<text transform="translate(51.81 347.7) scale(1 1.15)" font-size="5.8" text-anchor="middle">20</text>
<text transform="translate(68.64 347.7) scale(1 1.15)" font-size="5.8" text-anchor="middle">30</text>
<text transform="translate(85.46 347.7) scale(1 1.15)" font-size="5.8" text-anchor="middle">40</text>
<text transform="translate(102.28 347.7) scale(1 1.15)" font-size="5.8" text-anchor="middle">50</text>
<text transform="translate(119.11 347.7) scale(1 1.15)" font-size="5.8" text-anchor="middle">60</text>
<text transform="translate(135.93 347.7) scale(1 1.15)" font-size="5.8" text-anchor="middle">70</text>
<text transform="translate(152.75 347.7) scale(1 1.15)" font-size="5.8" text-anchor="middle">80</text>
<text transform="translate(169.58 347.7) scale(1 1.15)" font-size="5.8" text-anchor="middle">90</text>
<text transform="translate(186.4 347.7) scale(1 1.15)" font-size="5.8" text-anchor="middle">100</text>
<text transform="translate(203.23 347.7) scale(1 1.15)" font-size="5.8" text-anchor="middle">110</text>
<text transform="translate(220.05 347.7) scale(1 1.15)" font-size="5.8" text-anchor="middle">120</text>
<path d="M40.7 338.5H43.4M42 332.5H43.4M40.7 325.5H43.4M42 319.5H43.4M40.7 313.5H43.4M42 306.5H43.4M40.7 300.5H43.4M42 294.5H43.4M40.7 287.5H43.4M42 281.5H43.4M40.7 275.5H43.4M42 268.5H43.4M40.7 262.5H43.4M42 256.5H43.4M40.7 249.5H43.4M42 243.5H43.4M40.7 237.5H43.4M42 230.5H43.4M40.7 224.5H43.4M42 218.5H43.4M40.7 211.5H43.4M42 205.5H43.4M51.5 338.45V341.05M43.5 338.45V339.75M68.5 338.45V341.05M60.5 338.45V339.75M85.5 338.45V341.05M77.5 338.45V339.75M102.5 338.45V341.05M93.5 338.45V339.75M119.5 338.45V341.05M110.5 338.45V339.75M135.5 338.45V341.05M127.5 338.45V339.75M152.5 338.45V341.05M144.5 338.45V339.75M169.5 338.45V341.05M161.5 338.45V339.75M186.5 338.45V341.05M177.5 338.45V339.75M203.5 338.45V341.05M194.5 338.45V339.75M220.5 338.45V341.05M211.5 338.45V339.75" stroke="#2a2a2a" stroke-width="0.8" fill="none"/>
<text x="130.82" y="357.75" font-size="6.8" text-anchor="middle">cultivation time (h)</text>
<text transform="translate(23.7 271.93) rotate(-90)" font-size="6.8" text-anchor="middle">concentration 2-heptanone (ppb)</text>
<rect x="58.5" y="214.9" width="15" height="7.5" fill="#fff" stroke="#777" stroke-width="0.5"/>
<rect x="58.5" y="220.8" width="15" height="1.4" fill="#d4d4d4"/>
<rect x="58.5" y="222.4" width="15" height="8.3" fill="#4a4a4a"/>
<rect x="58.5" y="222.4" width="15" height="8.3" fill="url(#hg)" stroke="#444" stroke-width="0.5"/>
<text x="75.8" y="220.7" font-size="6.7">IMI</text>
<text x="75.8" y="229.2" font-size="6.7">P1</text>
<text class="pl" transform="translate(4.2 200.7) scale(1 1.08)" font-size="13.8">(C)</text>
</g>
<g id="panelD">
<rect x="293.09" y="335.15" width="2.35" height="3.25" fill="#fff" stroke="#787878" stroke-width="0.45"/>
<rect x="292.94" y="333.96" width="2.65" height="1.18" fill="#a0a0a0"/>
<rect x="292.94" y="333.96" width="2.65" height="1.18" fill="url(#hl)" stroke="#8a8a8a" stroke-width="0.3"/>
<path d="M294.5 335.15V332.5" stroke="#666" stroke-width="0.6" fill="none"/>
<path d="M292.94 332.5H295.34M292.94 335.5H295.34" stroke="#333" stroke-width="0.7" fill="none"/>
<rect x="295.69" y="332.78" width="2.65" height="5.62" fill="#525252"/>
<rect x="295.79" y="332.78" width="2.45" height="5.62" fill="url(#hm)" stroke="#3a3a3a" stroke-width="0.4"/>
<rect x="295.59" y="332.78" width="2.85" height="2.22" fill="#2c2c2c"/>
<rect x="295.69" y="332.78" width="2.65" height="2.22" fill="url(#hd)"/>
<path d="M296.5 335V330.5" stroke="#2a2a2a" stroke-width="0.75" fill="none"/>
<path d="M295.59 330.5H298.09" stroke="#2a2a2a" stroke-width="0.75" fill="none"/>
<rect x="298.81" y="334.7" width="2.35" height="3.7" fill="#fff" stroke="#787878" stroke-width="0.45"/>
<rect x="298.66" y="333.22" width="2.65" height="1.48" fill="#a0a0a0"/>
<rect x="298.66" y="333.22" width="2.65" height="1.48" fill="url(#hl)" stroke="#8a8a8a" stroke-width="0.3"/>
<path d="M299.5 334.7V331.5" stroke="#666" stroke-width="0.6" fill="none"/>
<path d="M298.66 331.5H301.06M298.66 334.5H301.06" stroke="#333" stroke-width="0.7" fill="none"/>
<rect x="301.41" y="327.31" width="2.65" height="11.09" fill="#525252"/>
<rect x="301.51" y="327.31" width="2.45" height="11.09" fill="url(#hm)" stroke="#3a3a3a" stroke-width="0.4"/>
<rect x="301.31" y="327.31" width="2.85" height="5.92" fill="#2c2c2c"/>
<rect x="301.41" y="327.31" width="2.65" height="5.92" fill="url(#hd)"/>
<path d="M302.5 333.22V321.5" stroke="#2a2a2a" stroke-width="0.75" fill="none"/>
<path d="M301.31 321.5H303.81" stroke="#2a2a2a" stroke-width="0.75" fill="none"/>
<rect x="331.22" y="329.08" width="2.35" height="9.32" fill="#fff" stroke="#787878" stroke-width="0.45"/>
<rect x="331.07" y="320.95" width="2.65" height="8.13" fill="#a0a0a0"/>
<rect x="331.07" y="320.95" width="2.65" height="8.13" fill="url(#hl)" stroke="#8a8a8a" stroke-width="0.3"/>
<path d="M332.5 329.08V312.5" stroke="#666" stroke-width="0.6" fill="none"/>
<path d="M331.07 312.5H333.47M331.07 329.5H333.47" stroke="#333" stroke-width="0.7" fill="none"/>
<rect x="333.82" y="259.43" width="2.65" height="78.97" fill="#525252"/>
<rect x="333.92" y="259.43" width="2.45" height="78.97" fill="url(#hm)" stroke="#3a3a3a" stroke-width="0.4"/>
<rect x="333.72" y="259.43" width="2.85" height="27.21" fill="#2c2c2c"/>
<rect x="333.82" y="259.43" width="2.65" height="27.21" fill="url(#hd)"/>
<path d="M334.5 286.64V232.5" stroke="#2a2a2a" stroke-width="0.75" fill="none"/>
<path d="M333.72 232.5H336.22" stroke="#2a2a2a" stroke-width="0.75" fill="none"/>
<rect x="339.65" y="336.33" width="2.35" height="2.07" fill="#fff" stroke="#787878" stroke-width="0.45"/>
<rect x="339.5" y="313.7" width="2.65" height="22.63" fill="#a0a0a0"/>
<rect x="339.5" y="313.7" width="2.65" height="22.63" fill="url(#hl)" stroke="#8a8a8a" stroke-width="0.3"/>
<path d="M340.5 336.33V291.5" stroke="#666" stroke-width="0.6" fill="none"/>
<path d="M339.5 291.5H341.9M339.5 336.5H341.9" stroke="#333" stroke-width="0.7" fill="none"/>
<rect x="342.25" y="266.08" width="2.65" height="72.32" fill="#525252"/>
<rect x="342.35" y="266.08" width="2.45" height="72.32" fill="url(#hm)" stroke="#3a3a3a" stroke-width="0.4"/>
<rect x="342.15" y="266.08" width="2.85" height="23.07" fill="#2c2c2c"/>
<rect x="342.25" y="266.08" width="2.65" height="23.07" fill="url(#hd)"/>
<path d="M343.5 289.15V243.5" stroke="#2a2a2a" stroke-width="0.75" fill="none"/>
<path d="M342.15 243.5H344.65" stroke="#2a2a2a" stroke-width="0.75" fill="none"/>
<rect x="373.38" y="321.69" width="2.35" height="16.71" fill="#fff" stroke="#787878" stroke-width="0.45"/>
<rect x="373.23" y="315.03" width="2.65" height="6.65" fill="#a0a0a0"/>
<rect x="373.23" y="315.03" width="2.65" height="6.65" fill="url(#hl)" stroke="#8a8a8a" stroke-width="0.3"/>
<path d="M374.5 321.69V308.5" stroke="#666" stroke-width="0.6" fill="none"/>
<path d="M373.23 308.5H375.63M373.23 321.5H375.63" stroke="#333" stroke-width="0.7" fill="none"/>
<rect x="375.98" y="240.94" width="2.65" height="97.46" fill="#525252"/>
<rect x="376.08" y="240.94" width="2.45" height="97.46" fill="url(#hm)" stroke="#3a3a3a" stroke-width="0.4"/>
<rect x="375.88" y="240.94" width="2.85" height="28.99" fill="#2c2c2c"/>
<rect x="375.98" y="240.94" width="2.65" height="28.99" fill="url(#hd)"/>
<path d="M377.5 269.93V211.5" stroke="#2a2a2a" stroke-width="0.75" fill="none"/>
<path d="M375.88 211.5H378.38" stroke="#2a2a2a" stroke-width="0.75" fill="none"/>
<rect x="380.1" y="317.25" width="2.35" height="21.15" fill="#fff" stroke="#787878" stroke-width="0.45"/>
<rect x="379.95" y="311.19" width="2.65" height="6.06" fill="#a0a0a0"/>
<rect x="379.95" y="311.19" width="2.65" height="6.06" fill="url(#hl)" stroke="#8a8a8a" stroke-width="0.3"/>
<path d="M381.5 317.25V305.5" stroke="#666" stroke-width="0.6" fill="none"/>
<path d="M379.95 305.5H382.35M379.95 317.5H382.35" stroke="#333" stroke-width="0.7" fill="none"/>
<rect x="382.7" y="248.04" width="2.65" height="90.36" fill="#525252"/>
<rect x="382.8" y="248.04" width="2.45" height="90.36" fill="url(#hm)" stroke="#3a3a3a" stroke-width="0.4"/>
<rect x="382.6" y="248.04" width="2.85" height="18.49" fill="#2c2c2c"/>
<rect x="382.7" y="248.04" width="2.65" height="18.49" fill="url(#hd)"/>
<path d="M383.5 266.53V229.5" stroke="#2a2a2a" stroke-width="0.75" fill="none"/>
<path d="M382.6 229.5H385.1" stroke="#2a2a2a" stroke-width="0.75" fill="none"/>
<rect x="412.52" y="316.36" width="2.35" height="22.04" fill="#fff" stroke="#787878" stroke-width="0.45"/>
<rect x="412.37" y="311.04" width="2.65" height="5.32" fill="#a0a0a0"/>
<rect x="412.37" y="311.04" width="2.65" height="5.32" fill="url(#hl)" stroke="#8a8a8a" stroke-width="0.3"/>
<path d="M413.5 316.36V305.5" stroke="#666" stroke-width="0.6" fill="none"/>
<path d="M412.37 305.5H414.77M412.37 316.5H414.77" stroke="#333" stroke-width="0.7" fill="none"/>
<rect x="415.12" y="270.81" width="2.65" height="67.59" fill="#525252"/>
<rect x="415.22" y="270.81" width="2.45" height="67.59" fill="url(#hm)" stroke="#3a3a3a" stroke-width="0.4"/>
<rect x="415.02" y="270.81" width="2.85" height="18.49" fill="#2c2c2c"/>
<rect x="415.12" y="270.81" width="2.65" height="18.49" fill="url(#hd)"/>
<path d="M416.5 289.3V252.5" stroke="#2a2a2a" stroke-width="0.75" fill="none"/>
<path d="M415.02 252.5H417.52" stroke="#2a2a2a" stroke-width="0.75" fill="none"/>
<rect x="420.75" y="320.21" width="2.35" height="18.19" fill="#fff" stroke="#787878" stroke-width="0.45"/>
<rect x="420.6" y="316.22" width="2.65" height="3.99" fill="#a0a0a0"/>
<rect x="420.6" y="316.22" width="2.65" height="3.99" fill="url(#hl)" stroke="#8a8a8a" stroke-width="0.3"/>
<path d="M421.5 320.21V312.5" stroke="#666" stroke-width="0.6" fill="none"/>
<path d="M420.6 312.5H423M420.6 320.5H423" stroke="#333" stroke-width="0.7" fill="none"/>
<rect x="423.35" y="266.08" width="2.65" height="72.32" fill="#525252"/>
<rect x="423.45" y="266.08" width="2.45" height="72.32" fill="url(#hm)" stroke="#3a3a3a" stroke-width="0.4"/>
<rect x="423.25" y="266.08" width="2.85" height="16.71" fill="#2c2c2c"/>
<rect x="423.35" y="266.08" width="2.65" height="16.71" fill="url(#hd)"/>
<path d="M424.5 282.79V249.5" stroke="#2a2a2a" stroke-width="0.75" fill="none"/>
<path d="M423.25 249.5H425.75" stroke="#2a2a2a" stroke-width="0.75" fill="none"/>
<rect x="453.06" y="323.61" width="2.35" height="14.79" fill="#fff" stroke="#787878" stroke-width="0.45"/>
<rect x="452.91" y="315.03" width="2.65" height="8.58" fill="#a0a0a0"/>
<rect x="452.91" y="315.03" width="2.65" height="8.58" fill="url(#hl)" stroke="#8a8a8a" stroke-width="0.3"/>
<path d="M454.5 323.61V306.5" stroke="#666" stroke-width="0.6" fill="none"/>
<path d="M452.91 306.5H455.31M452.91 323.5H455.31" stroke="#333" stroke-width="0.7" fill="none"/>
<rect x="455.66" y="264.16" width="2.65" height="74.24" fill="#525252"/>
<rect x="455.76" y="264.16" width="2.45" height="74.24" fill="url(#hm)" stroke="#3a3a3a" stroke-width="0.4"/>
<rect x="455.56" y="264.16" width="2.85" height="11.24" fill="#2c2c2c"/>
<rect x="455.66" y="264.16" width="2.65" height="11.24" fill="url(#hd)"/>
<path d="M456.5 275.4V252.5" stroke="#2a2a2a" stroke-width="0.75" fill="none"/>
<path d="M455.56 252.5H458.06" stroke="#2a2a2a" stroke-width="0.75" fill="none"/>
<rect x="286.05" y="205.3" width="177.25" height="133.1" fill="none" stroke="#484848" stroke-width="0.78"/>
<text transform="translate(282.05 341) scale(0.97 1.1)" font-size="5.8" text-anchor="end">0</text>
<text transform="translate(282.05 326.21) scale(0.97 1.1)" font-size="5.8" text-anchor="end">100</text>
<text transform="translate(282.05 311.42) scale(0.97 1.1)" font-size="5.8" text-anchor="end">200</text>
<text transform="translate(282.05 296.63) scale(0.97 1.1)" font-size="5.8" text-anchor="end">300</text>
<text transform="translate(282.05 281.84) scale(0.97 1.1)" font-size="5.8" text-anchor="end">400</text>
<text transform="translate(282.05 267.05) scale(0.97 1.1)" font-size="5.8" text-anchor="end">500</text>
<text transform="translate(282.05 252.26) scale(0.97 1.1)" font-size="5.8" text-anchor="end">600</text>
<text transform="translate(282.05 237.47) scale(0.97 1.1)" font-size="5.8" text-anchor="end">700</text>
<text transform="translate(282.05 222.69) scale(0.97 1.1)" font-size="5.8" text-anchor="end">800</text>
<text transform="translate(282.05 207.9) scale(0.97 1.1)" font-size="5.8" text-anchor="end">900</text>
<text transform="translate(294.49 347.65) scale(1 1.15)" font-size="5.8" text-anchor="middle">20</text>
<text transform="translate(311.37 347.65) scale(1 1.15)" font-size="5.8" text-anchor="middle">30</text>
<text transform="translate(328.25 347.65) scale(1 1.15)" font-size="5.8" text-anchor="middle">40</text>
<text transform="translate(345.13 347.65) scale(1 1.15)" font-size="5.8" text-anchor="middle">50</text>
<text transform="translate(362.01 347.65) scale(1 1.15)" font-size="5.8" text-anchor="middle">60</text>
<text transform="translate(378.9 347.65) scale(1 1.15)" font-size="5.8" text-anchor="middle">70</text>
<text transform="translate(395.78 347.65) scale(1 1.15)" font-size="5.8" text-anchor="middle">80</text>
<text transform="translate(412.66 347.65) scale(1 1.15)" font-size="5.8" text-anchor="middle">90</text>
<text transform="translate(429.54 347.65) scale(1 1.15)" font-size="5.8" text-anchor="middle">100</text>
<text transform="translate(446.42 347.65) scale(1 1.15)" font-size="5.8" text-anchor="middle">110</text>
<text transform="translate(463.3 347.65) scale(1 1.15)" font-size="5.8" text-anchor="middle">120</text>
<path d="M283.35 338.5H286.05M284.65 331.5H286.05M283.35 323.5H286.05M284.65 316.5H286.05M283.35 308.5H286.05M284.65 301.5H286.05M283.35 294.5H286.05M284.65 286.5H286.05M283.35 279.5H286.05M284.65 271.5H286.05M283.35 264.5H286.05M284.65 257.5H286.05M283.35 249.5H286.05M284.65 242.5H286.05M283.35 234.5H286.05M284.65 227.5H286.05M283.35 220.5H286.05M284.65 212.5H286.05M283.35 205.5H286.05M294.5 338.4V341M286.5 338.4V339.7M311.5 338.4V341M302.5 338.4V339.7M328.5 338.4V341M319.5 338.4V339.7M345.5 338.4V341M336.5 338.4V339.7M362.5 338.4V341M353.5 338.4V339.7M378.5 338.4V341M370.5 338.4V339.7M395.5 338.4V341M387.5 338.4V339.7M412.5 338.4V341M404.5 338.4V339.7M429.5 338.4V341M421.5 338.4V339.7M446.5 338.4V341M437.5 338.4V339.7M463.5 338.4V341M454.5 338.4V339.7" stroke="#2a2a2a" stroke-width="0.8" fill="none"/>
<text x="374.88" y="357.6" font-size="6.8" text-anchor="middle">cultivation time (h)</text>
<text transform="translate(269 271.85) rotate(-90)" font-size="6.8" text-anchor="middle">concentration 2-methyl-propanol (ppb)</text>
<rect x="301.1" y="214.9" width="15.1" height="7.5" fill="#fff" stroke="#777" stroke-width="0.5"/>
<rect x="301.1" y="220.8" width="15.1" height="1.4" fill="#d4d4d4"/>
<rect x="301.1" y="222.4" width="15.1" height="8.3" fill="#4a4a4a"/>
<rect x="301.1" y="222.4" width="15.1" height="8.3" fill="url(#hg)" stroke="#444" stroke-width="0.5"/>
<text x="318.3" y="220.2" font-size="6.7">IMI</text>
<text x="318.3" y="228.7" font-size="6.7">P1</text>
<text class="pl" transform="translate(245.8 200.7) scale(1 1.08)" font-size="13.8">(D)</text>
</g>
<g id="panelE">
<rect x="50.45" y="505.68" width="2.35" height="19.62" fill="#fff" stroke="#787878" stroke-width="0.45"/>
<rect x="50.3" y="502.02" width="2.65" height="3.66" fill="#a0a0a0"/>
<rect x="50.3" y="502.02" width="2.65" height="3.66" fill="url(#hl)" stroke="#8a8a8a" stroke-width="0.3"/>
<path d="M51.5 505.68V498.5" stroke="#666" stroke-width="0.6" fill="none"/>
<path d="M50.3 498.5H52.7M50.3 505.5H52.7" stroke="#333" stroke-width="0.7" fill="none"/>
<rect x="53.05" y="490.94" width="2.65" height="34.36" fill="#525252"/>
<rect x="53.15" y="490.94" width="2.45" height="34.36" fill="url(#hm)" stroke="#3a3a3a" stroke-width="0.4"/>
<rect x="52.95" y="490.94" width="2.85" height="11.08" fill="#2c2c2c"/>
<rect x="53.05" y="490.94" width="2.65" height="11.08" fill="url(#hd)"/>
<path d="M54.5 502.02V479.5" stroke="#2a2a2a" stroke-width="0.75" fill="none"/>
<path d="M52.95 479.5H55.45" stroke="#2a2a2a" stroke-width="0.75" fill="none"/>
<rect x="56.15" y="505.9" width="2.35" height="19.4" fill="#fff" stroke="#787878" stroke-width="0.45"/>
<rect x="56" y="502.58" width="2.65" height="3.32" fill="#a0a0a0"/>
<rect x="56" y="502.58" width="2.65" height="3.32" fill="url(#hl)" stroke="#8a8a8a" stroke-width="0.3"/>
<path d="M57.5 505.9V499.5" stroke="#666" stroke-width="0.6" fill="none"/>
<path d="M56 499.5H58.4M56 505.5H58.4" stroke="#333" stroke-width="0.7" fill="none"/>
<rect x="58.75" y="488.72" width="2.65" height="36.57" fill="#525252"/>
<rect x="58.85" y="488.72" width="2.45" height="36.57" fill="url(#hm)" stroke="#3a3a3a" stroke-width="0.4"/>
<rect x="58.65" y="488.72" width="2.85" height="11.64" fill="#2c2c2c"/>
<rect x="58.75" y="488.72" width="2.65" height="11.64" fill="url(#hd)"/>
<path d="M59.5 500.36V477.5" stroke="#2a2a2a" stroke-width="0.75" fill="none"/>
<path d="M58.65 477.5H61.15" stroke="#2a2a2a" stroke-width="0.75" fill="none"/>
<rect x="88.46" y="509.12" width="2.35" height="16.18" fill="#fff" stroke="#787878" stroke-width="0.45"/>
<rect x="88.31" y="505.13" width="2.65" height="3.99" fill="#a0a0a0"/>
<rect x="88.31" y="505.13" width="2.65" height="3.99" fill="url(#hl)" stroke="#8a8a8a" stroke-width="0.3"/>
<path d="M89.5 509.12V501.5" stroke="#666" stroke-width="0.6" fill="none"/>
<path d="M88.31 501.5H90.71M88.31 509.5H90.71" stroke="#333" stroke-width="0.7" fill="none"/>
<rect x="91.06" y="476.09" width="2.65" height="49.21" fill="#525252"/>
<rect x="91.16" y="476.09" width="2.45" height="49.21" fill="url(#hm)" stroke="#3a3a3a" stroke-width="0.4"/>
<rect x="90.96" y="476.09" width="2.85" height="17.95" fill="#2c2c2c"/>
<rect x="91.06" y="476.09" width="2.65" height="17.95" fill="url(#hd)"/>
<path d="M92.5 494.04V458.5" stroke="#2a2a2a" stroke-width="0.75" fill="none"/>
<path d="M90.96 458.5H93.46" stroke="#2a2a2a" stroke-width="0.75" fill="none"/>
<rect x="96.86" y="506.46" width="2.35" height="18.84" fill="#fff" stroke="#787878" stroke-width="0.45"/>
<rect x="96.71" y="504.24" width="2.65" height="2.22" fill="#a0a0a0"/>
<rect x="96.71" y="504.24" width="2.65" height="2.22" fill="url(#hl)" stroke="#8a8a8a" stroke-width="0.3"/>
<path d="M97.5 506.46V502.5" stroke="#666" stroke-width="0.6" fill="none"/>
<path d="M96.71 502.5H99.11M96.71 506.5H99.11" stroke="#333" stroke-width="0.7" fill="none"/>
<rect x="99.46" y="485.18" width="2.65" height="40.12" fill="#525252"/>
<rect x="99.56" y="485.18" width="2.45" height="40.12" fill="url(#hm)" stroke="#3a3a3a" stroke-width="0.4"/>
<rect x="99.36" y="485.18" width="2.85" height="8.09" fill="#2c2c2c"/>
<rect x="99.46" y="485.18" width="2.65" height="8.09" fill="url(#hd)"/>
<path d="M100.5 493.27V477.5" stroke="#2a2a2a" stroke-width="0.75" fill="none"/>
<path d="M99.36 477.5H101.86" stroke="#2a2a2a" stroke-width="0.75" fill="none"/>
<rect x="130.47" y="507.46" width="2.35" height="17.84" fill="#fff" stroke="#787878" stroke-width="0.45"/>
<rect x="130.32" y="504.8" width="2.65" height="2.66" fill="#a0a0a0"/>
<rect x="130.32" y="504.8" width="2.65" height="2.66" fill="url(#hl)" stroke="#8a8a8a" stroke-width="0.3"/>
<path d="M131.5 507.46V502.5" stroke="#666" stroke-width="0.6" fill="none"/>
<path d="M130.32 502.5H132.72M130.32 507.5H132.72" stroke="#333" stroke-width="0.7" fill="none"/>
<rect x="133.07" y="504.24" width="2.65" height="21.06" fill="#525252"/>
<rect x="133.17" y="504.24" width="2.45" height="21.06" fill="url(#hm)" stroke="#3a3a3a" stroke-width="0.4"/>
<rect x="132.97" y="504.24" width="2.85" height="3.77" fill="#2c2c2c"/>
<rect x="133.07" y="504.24" width="2.65" height="3.77" fill="url(#hd)"/>
<path d="M134.5 508.01V500.5" stroke="#2a2a2a" stroke-width="0.75" fill="none"/>
<path d="M132.97 500.5H135.47" stroke="#2a2a2a" stroke-width="0.75" fill="none"/>
<rect x="137.17" y="505.02" width="2.35" height="20.28" fill="#fff" stroke="#787878" stroke-width="0.45"/>
<rect x="137.02" y="501.14" width="2.65" height="3.88" fill="#a0a0a0"/>
<rect x="137.02" y="501.14" width="2.65" height="3.88" fill="url(#hl)" stroke="#8a8a8a" stroke-width="0.3"/>
<path d="M138.5 505.02V497.5" stroke="#666" stroke-width="0.6" fill="none"/>
<path d="M137.02 497.5H139.42M137.02 505.5H139.42" stroke="#333" stroke-width="0.7" fill="none"/>
<rect x="139.77" y="502.14" width="2.65" height="23.16" fill="#525252"/>
<rect x="139.87" y="502.14" width="2.45" height="23.16" fill="url(#hm)" stroke="#3a3a3a" stroke-width="0.4"/>
<rect x="139.67" y="502.14" width="2.85" height="2.66" fill="#2c2c2c"/>
<rect x="139.77" y="502.14" width="2.65" height="2.66" fill="url(#hd)"/>
<path d="M140.5 504.8V499.5" stroke="#2a2a2a" stroke-width="0.75" fill="none"/>
<path d="M139.67 499.5H142.17" stroke="#2a2a2a" stroke-width="0.75" fill="none"/>
<rect x="169.48" y="507.12" width="2.35" height="18.18" fill="#fff" stroke="#787878" stroke-width="0.45"/>
<rect x="169.33" y="501.8" width="2.65" height="5.32" fill="#a0a0a0"/>
<rect x="169.33" y="501.8" width="2.65" height="5.32" fill="url(#hl)" stroke="#8a8a8a" stroke-width="0.3"/>
<path d="M170.5 507.12V496.5" stroke="#666" stroke-width="0.6" fill="none"/>
<path d="M169.33 496.5H171.73M169.33 507.5H171.73" stroke="#333" stroke-width="0.7" fill="none"/>
<rect x="172.08" y="505.35" width="2.65" height="19.95" fill="#525252"/>
<rect x="172.18" y="505.35" width="2.45" height="19.95" fill="url(#hm)" stroke="#3a3a3a" stroke-width="0.4"/>
<rect x="171.98" y="505.35" width="2.85" height="2.44" fill="#2c2c2c"/>
<rect x="172.08" y="505.35" width="2.65" height="2.44" fill="url(#hd)"/>
<path d="M173.5 507.79V502.5" stroke="#2a2a2a" stroke-width="0.75" fill="none"/>
<path d="M171.98 502.5H174.48" stroke="#2a2a2a" stroke-width="0.75" fill="none"/>
<rect x="177.68" y="507.57" width="2.35" height="17.73" fill="#fff" stroke="#787878" stroke-width="0.45"/>
<rect x="177.53" y="505.35" width="2.65" height="2.22" fill="#a0a0a0"/>
<rect x="177.53" y="505.35" width="2.65" height="2.22" fill="url(#hl)" stroke="#8a8a8a" stroke-width="0.3"/>
<path d="M178.5 507.57V503.5" stroke="#666" stroke-width="0.6" fill="none"/>
<path d="M177.53 503.5H179.93M177.53 507.5H179.93" stroke="#333" stroke-width="0.7" fill="none"/>
<rect x="180.28" y="496.93" width="2.65" height="28.37" fill="#525252"/>
<rect x="180.38" y="496.93" width="2.45" height="28.37" fill="url(#hm)" stroke="#3a3a3a" stroke-width="0.4"/>
<rect x="180.18" y="496.93" width="2.85" height="21.72" fill="#2c2c2c"/>
<rect x="180.28" y="496.93" width="2.65" height="21.72" fill="url(#hd)"/>
<path d="M181.5 518.65V475.5" stroke="#2a2a2a" stroke-width="0.75" fill="none"/>
<path d="M180.18 475.5H182.68" stroke="#2a2a2a" stroke-width="0.75" fill="none"/>
<rect x="209.89" y="506.46" width="2.35" height="18.84" fill="#fff" stroke="#787878" stroke-width="0.45"/>
<rect x="209.74" y="503.8" width="2.65" height="2.66" fill="#a0a0a0"/>
<rect x="209.74" y="503.8" width="2.65" height="2.66" fill="url(#hl)" stroke="#8a8a8a" stroke-width="0.3"/>
<path d="M210.5 506.46V501.5" stroke="#666" stroke-width="0.6" fill="none"/>
<path d="M209.74 501.5H212.14M209.74 506.5H212.14" stroke="#333" stroke-width="0.7" fill="none"/>
<rect x="212.49" y="504.35" width="2.65" height="20.95" fill="#525252"/>
<rect x="212.59" y="504.35" width="2.45" height="20.95" fill="url(#hm)" stroke="#3a3a3a" stroke-width="0.4"/>
<rect x="212.39" y="504.35" width="2.85" height="2.55" fill="#2c2c2c"/>
<rect x="212.49" y="504.35" width="2.65" height="2.55" fill="url(#hd)"/>
<path d="M213.5 506.9V501.5" stroke="#2a2a2a" stroke-width="0.75" fill="none"/>
<path d="M212.39 501.5H214.89" stroke="#2a2a2a" stroke-width="0.75" fill="none"/>
<rect x="43.4" y="392.3" width="176.65" height="133" fill="none" stroke="#484848" stroke-width="0.78"/>
<text transform="translate(39.4 527.9) scale(0.97 1.1)" font-size="5.8" text-anchor="end">0</text>
<text transform="translate(39.4 505.73) scale(0.97 1.1)" font-size="5.8" text-anchor="end">20</text>
<text transform="translate(39.4 483.56) scale(0.97 1.1)" font-size="5.8" text-anchor="end">40</text>
<text transform="translate(39.4 461.4) scale(0.97 1.1)" font-size="5.8" text-anchor="end">60</text>
<text transform="translate(39.4 439.23) scale(0.97 1.1)" font-size="5.8" text-anchor="end">80</text>
<text transform="translate(39.4 417.06) scale(0.97 1.1)" font-size="5.8" text-anchor="end">100</text>
<text transform="translate(39.4 394.9) scale(0.97 1.1)" font-size="5.8" text-anchor="end">120</text>
<text transform="translate(51.81 534.55) scale(1 1.15)" font-size="5.8" text-anchor="middle">20</text>
<text transform="translate(68.64 534.55) scale(1 1.15)" font-size="5.8" text-anchor="middle">30</text>
<text transform="translate(85.46 534.55) scale(1 1.15)" font-size="5.8" text-anchor="middle">40</text>
<text transform="translate(102.28 534.55) scale(1 1.15)" font-size="5.8" text-anchor="middle">50</text>
<text transform="translate(119.11 534.55) scale(1 1.15)" font-size="5.8" text-anchor="middle">60</text>
<text transform="translate(135.93 534.55) scale(1 1.15)" font-size="5.8" text-anchor="middle">70</text>
<text transform="translate(152.75 534.55) scale(1 1.15)" font-size="5.8" text-anchor="middle">80</text>
<text transform="translate(169.58 534.55) scale(1 1.15)" font-size="5.8" text-anchor="middle">90</text>
<text transform="translate(186.4 534.55) scale(1 1.15)" font-size="5.8" text-anchor="middle">100</text>
<text transform="translate(203.23 534.55) scale(1 1.15)" font-size="5.8" text-anchor="middle">110</text>
<text transform="translate(220.05 534.55) scale(1 1.15)" font-size="5.8" text-anchor="middle">120</text>
<path d="M40.7 525.5H43.4M42 514.5H43.4M40.7 503.5H43.4M42 492.5H43.4M40.7 480.5H43.4M42 469.5H43.4M40.7 458.5H43.4M42 447.5H43.4M40.7 436.5H43.4M42 425.5H43.4M40.7 414.5H43.4M42 403.5H43.4M40.7 392.5H43.4M51.5 525.3V527.9M43.5 525.3V526.6M68.5 525.3V527.9M60.5 525.3V526.6M85.5 525.3V527.9M77.5 525.3V526.6M102.5 525.3V527.9M93.5 525.3V526.6M119.5 525.3V527.9M110.5 525.3V526.6M135.5 525.3V527.9M127.5 525.3V526.6M152.5 525.3V527.9M144.5 525.3V526.6M169.5 525.3V527.9M161.5 525.3V526.6M186.5 525.3V527.9M177.5 525.3V526.6M203.5 525.3V527.9M194.5 525.3V526.6M220.5 525.3V527.9M211.5 525.3V526.6" stroke="#2a2a2a" stroke-width="0.8" fill="none"/>
<text x="130.82" y="545.2" font-size="6.8" text-anchor="middle">cultivation time (h)</text>
<text transform="translate(26.5 458.2) rotate(-90)" font-size="6.8" text-anchor="middle">concentration 3-methylbutanal (ppb)</text>
<rect x="58.5" y="401.9" width="15" height="7.6" fill="#fff" stroke="#777" stroke-width="0.5"/>
<rect x="58.5" y="407.9" width="15" height="1.4" fill="#d4d4d4"/>
<rect x="58.5" y="409.5" width="15" height="8.4" fill="#4a4a4a"/>
<rect x="58.5" y="409.5" width="15" height="8.4" fill="url(#hg)" stroke="#444" stroke-width="0.5"/>
<text x="75.8" y="407.9" font-size="6.7">IMI</text>
<text x="75.8" y="416.5" font-size="6.7">P1</text>
<text class="pl" transform="translate(2.6 388) scale(1 1.08)" font-size="13.8">(E)</text>
</g>
<g id="panelF">
<rect x="293.3" y="485.38" width="2.35" height="39.97" fill="#fff" stroke="#787878" stroke-width="0.45"/>
<rect x="293.15" y="457.27" width="2.65" height="28.11" fill="#a0a0a0"/>
<rect x="293.15" y="457.27" width="2.65" height="28.11" fill="url(#hl)" stroke="#8a8a8a" stroke-width="0.3"/>
<path d="M294.5 485.38V429.5" stroke="#666" stroke-width="0.6" fill="none"/>
<path d="M293.15 429.5H295.55M293.15 485.5H295.55" stroke="#333" stroke-width="0.7" fill="none"/>
<rect x="295.9" y="449.05" width="2.65" height="76.3" fill="#525252"/>
<rect x="296" y="449.05" width="2.45" height="76.3" fill="url(#hm)" stroke="#3a3a3a" stroke-width="0.4"/>
<rect x="295.8" y="449.05" width="2.85" height="31.96" fill="#2c2c2c"/>
<rect x="295.9" y="449.05" width="2.65" height="31.96" fill="url(#hd)"/>
<path d="M297.5 481.01V417.5" stroke="#2a2a2a" stroke-width="0.75" fill="none"/>
<path d="M295.8 417.5H298.3" stroke="#2a2a2a" stroke-width="0.75" fill="none"/>
<rect x="299" y="471.86" width="2.35" height="53.49" fill="#fff" stroke="#787878" stroke-width="0.45"/>
<rect x="298.85" y="450.64" width="2.65" height="21.22" fill="#a0a0a0"/>
<rect x="298.85" y="450.64" width="2.65" height="21.22" fill="url(#hl)" stroke="#8a8a8a" stroke-width="0.3"/>
<path d="M300.5 471.86V429.5" stroke="#666" stroke-width="0.6" fill="none"/>
<path d="M298.85 429.5H301.25M298.85 471.5H301.25" stroke="#333" stroke-width="0.7" fill="none"/>
<rect x="301.6" y="437.65" width="2.65" height="87.7" fill="#525252"/>
<rect x="301.7" y="437.65" width="2.45" height="87.7" fill="url(#hm)" stroke="#3a3a3a" stroke-width="0.4"/>
<rect x="301.5" y="437.65" width="2.85" height="8.49" fill="#2c2c2c"/>
<rect x="301.6" y="437.65" width="2.65" height="8.49" fill="url(#hd)"/>
<path d="M302.5 446.14V429.5" stroke="#2a2a2a" stroke-width="0.75" fill="none"/>
<path d="M301.5 429.5H304" stroke="#2a2a2a" stroke-width="0.75" fill="none"/>
<rect x="331.31" y="462.98" width="2.35" height="62.37" fill="#fff" stroke="#787878" stroke-width="0.45"/>
<rect x="331.16" y="443.09" width="2.65" height="19.89" fill="#a0a0a0"/>
<rect x="331.16" y="443.09" width="2.65" height="19.89" fill="url(#hl)" stroke="#8a8a8a" stroke-width="0.3"/>
<path d="M332.5 462.98V423.5" stroke="#666" stroke-width="0.6" fill="none"/>
<path d="M331.16 423.5H333.56M331.16 462.5H333.56" stroke="#333" stroke-width="0.7" fill="none"/>
<rect x="333.91" y="441.63" width="2.65" height="83.72" fill="#525252"/>
<rect x="334.01" y="441.63" width="2.45" height="83.72" fill="url(#hm)" stroke="#3a3a3a" stroke-width="0.4"/>
<rect x="333.81" y="441.63" width="2.85" height="15.78" fill="#2c2c2c"/>
<rect x="333.91" y="441.63" width="2.65" height="15.78" fill="url(#hd)"/>
<path d="M335.5 457.41V425.5" stroke="#2a2a2a" stroke-width="0.75" fill="none"/>
<path d="M333.81 425.5H336.31" stroke="#2a2a2a" stroke-width="0.75" fill="none"/>
<rect x="339.71" y="467.22" width="2.35" height="58.13" fill="#fff" stroke="#787878" stroke-width="0.45"/>
<rect x="339.56" y="444.68" width="2.65" height="22.54" fill="#a0a0a0"/>
<rect x="339.56" y="444.68" width="2.65" height="22.54" fill="url(#hl)" stroke="#8a8a8a" stroke-width="0.3"/>
<path d="M340.5 467.22V422.5" stroke="#666" stroke-width="0.6" fill="none"/>
<path d="M339.56 422.5H341.96M339.56 467.5H341.96" stroke="#333" stroke-width="0.7" fill="none"/>
<rect x="342.31" y="441.63" width="2.65" height="83.72" fill="#525252"/>
<rect x="342.41" y="441.63" width="2.45" height="83.72" fill="url(#hm)" stroke="#3a3a3a" stroke-width="0.4"/>
<rect x="342.21" y="441.63" width="2.85" height="11.54" fill="#2c2c2c"/>
<rect x="342.31" y="441.63" width="2.65" height="11.54" fill="url(#hd)"/>
<path d="M343.5 453.16V430.5" stroke="#2a2a2a" stroke-width="0.75" fill="none"/>
<path d="M342.21 430.5H344.71" stroke="#2a2a2a" stroke-width="0.75" fill="none"/>
<rect x="373.32" y="512.3" width="2.35" height="13.05" fill="#fff" stroke="#787878" stroke-width="0.45"/>
<rect x="373.17" y="501.03" width="2.65" height="11.27" fill="#a0a0a0"/>
<rect x="373.17" y="501.03" width="2.65" height="11.27" fill="url(#hl)" stroke="#8a8a8a" stroke-width="0.3"/>
<path d="M374.5 512.3V489.5" stroke="#666" stroke-width="0.6" fill="none"/>
<path d="M373.17 489.5H375.57M373.17 512.5H375.57" stroke="#333" stroke-width="0.7" fill="none"/>
<rect x="375.92" y="446.14" width="2.65" height="79.21" fill="#525252"/>
<rect x="376.02" y="446.14" width="2.45" height="79.21" fill="url(#hm)" stroke="#3a3a3a" stroke-width="0.4"/>
<rect x="375.82" y="446.14" width="2.85" height="18.56" fill="#2c2c2c"/>
<rect x="375.92" y="446.14" width="2.65" height="18.56" fill="url(#hd)"/>
<path d="M377.5 464.7V427.5" stroke="#2a2a2a" stroke-width="0.75" fill="none"/>
<path d="M375.82 427.5H378.32" stroke="#2a2a2a" stroke-width="0.75" fill="none"/>
<rect x="380.02" y="511.64" width="2.35" height="13.71" fill="#fff" stroke="#787878" stroke-width="0.45"/>
<rect x="379.87" y="505.01" width="2.65" height="6.63" fill="#a0a0a0"/>
<rect x="379.87" y="505.01" width="2.65" height="6.63" fill="url(#hl)" stroke="#8a8a8a" stroke-width="0.3"/>
<path d="M381.5 511.64V498.5" stroke="#666" stroke-width="0.6" fill="none"/>
<path d="M379.87 498.5H382.27M379.87 511.5H382.27" stroke="#333" stroke-width="0.7" fill="none"/>
<rect x="382.62" y="448.52" width="2.65" height="76.83" fill="#525252"/>
<rect x="382.72" y="448.52" width="2.45" height="76.83" fill="url(#hm)" stroke="#3a3a3a" stroke-width="0.4"/>
<rect x="382.52" y="448.52" width="2.85" height="20.69" fill="#2c2c2c"/>
<rect x="382.62" y="448.52" width="2.65" height="20.69" fill="url(#hd)"/>
<path d="M383.5 469.21V427.5" stroke="#2a2a2a" stroke-width="0.75" fill="none"/>
<path d="M382.52 427.5H385.02" stroke="#2a2a2a" stroke-width="0.75" fill="none"/>
<rect x="412.18" y="513.5" width="2.65" height="11.85" fill="#a0a0a0"/>
<rect x="412.18" y="513.5" width="2.65" height="11.85" fill="url(#hl)" stroke="#8a8a8a" stroke-width="0.3"/>
<path d="M413.5 525.35V496.5" stroke="#666" stroke-width="0.6" fill="none"/>
<path d="M412.18 496.5H414.58M412.18 525.5H414.58" stroke="#333" stroke-width="0.7" fill="none"/>
<rect x="414.93" y="488.04" width="2.65" height="37.31" fill="#525252"/>
<rect x="415.03" y="488.04" width="2.45" height="37.31" fill="url(#hm)" stroke="#3a3a3a" stroke-width="0.4"/>
<rect x="414.83" y="488.04" width="2.85" height="26.78" fill="#2c2c2c"/>
<rect x="414.93" y="488.04" width="2.65" height="26.78" fill="url(#hd)"/>
<path d="M416.5 514.82V461.5" stroke="#2a2a2a" stroke-width="0.75" fill="none"/>
<path d="M414.83 461.5H417.33" stroke="#2a2a2a" stroke-width="0.75" fill="none"/>
<rect x="420.38" y="512.97" width="2.65" height="12.38" fill="#a0a0a0"/>
<rect x="420.38" y="512.97" width="2.65" height="12.38" fill="url(#hl)" stroke="#8a8a8a" stroke-width="0.3"/>
<path d="M421.5 525.35V495.5" stroke="#666" stroke-width="0.6" fill="none"/>
<path d="M420.38 495.5H422.78M420.38 525.5H422.78" stroke="#333" stroke-width="0.7" fill="none"/>
<rect x="423.13" y="477.56" width="2.65" height="47.79" fill="#525252"/>
<rect x="423.23" y="477.56" width="2.45" height="47.79" fill="url(#hm)" stroke="#3a3a3a" stroke-width="0.4"/>
<rect x="423.03" y="477.56" width="2.85" height="22.14" fill="#2c2c2c"/>
<rect x="423.13" y="477.56" width="2.65" height="22.14" fill="url(#hd)"/>
<path d="M424.5 499.71V455.5" stroke="#2a2a2a" stroke-width="0.75" fill="none"/>
<path d="M423.03 455.5H425.53" stroke="#2a2a2a" stroke-width="0.75" fill="none"/>
<rect x="452.59" y="515.35" width="2.65" height="10" fill="#a0a0a0"/>
<rect x="452.59" y="515.35" width="2.65" height="10" fill="url(#hl)" stroke="#8a8a8a" stroke-width="0.3"/>
<path d="M453.5 525.35V515.5" stroke="#666" stroke-width="0.6" fill="none"/>
<path d="M452.59 515.5H454.99M452.59 525.5H454.99" stroke="#333" stroke-width="0.7" fill="none"/>
<rect x="455.34" y="490.29" width="2.65" height="35.06" fill="#525252"/>
<rect x="455.44" y="490.29" width="2.45" height="35.06" fill="url(#hm)" stroke="#3a3a3a" stroke-width="0.4"/>
<rect x="455.24" y="490.29" width="2.85" height="15.65" fill="#2c2c2c"/>
<rect x="455.34" y="490.29" width="2.65" height="15.65" fill="url(#hd)"/>
<path d="M456.5 505.94V474.5" stroke="#2a2a2a" stroke-width="0.75" fill="none"/>
<path d="M455.24 474.5H457.74" stroke="#2a2a2a" stroke-width="0.75" fill="none"/>
<rect x="286" y="392.3" width="176.65" height="133.05" fill="none" stroke="#484848" stroke-width="0.78"/>
<text transform="translate(282 527.95) scale(0.97 1.1)" font-size="5.8" text-anchor="end">0</text>
<text transform="translate(282 501.34) scale(0.97 1.1)" font-size="5.8" text-anchor="end">20</text>
<text transform="translate(282 474.73) scale(0.97 1.1)" font-size="5.8" text-anchor="end">40</text>
<text transform="translate(282 448.12) scale(0.97 1.1)" font-size="5.8" text-anchor="end">60</text>
<text transform="translate(282 421.51) scale(0.97 1.1)" font-size="5.8" text-anchor="end">80</text>
<text transform="translate(282 394.9) scale(0.97 1.1)" font-size="5.8" text-anchor="end">100</text>
<text transform="translate(294.41 534.2) scale(1 1.15)" font-size="5.8" text-anchor="middle">20</text>
<text transform="translate(311.24 534.2) scale(1 1.15)" font-size="5.8" text-anchor="middle">30</text>
<text transform="translate(328.06 534.2) scale(1 1.15)" font-size="5.8" text-anchor="middle">40</text>
<text transform="translate(344.88 534.2) scale(1 1.15)" font-size="5.8" text-anchor="middle">50</text>
<text transform="translate(361.71 534.2) scale(1 1.15)" font-size="5.8" text-anchor="middle">60</text>
<text transform="translate(378.53 534.2) scale(1 1.15)" font-size="5.8" text-anchor="middle">70</text>
<text transform="translate(395.35 534.2) scale(1 1.15)" font-size="5.8" text-anchor="middle">80</text>
<text transform="translate(412.18 534.2) scale(1 1.15)" font-size="5.8" text-anchor="middle">90</text>
<text transform="translate(429 534.2) scale(1 1.15)" font-size="5.8" text-anchor="middle">100</text>
<text transform="translate(445.83 534.2) scale(1 1.15)" font-size="5.8" text-anchor="middle">110</text>
<text transform="translate(462.65 534.2) scale(1 1.15)" font-size="5.8" text-anchor="middle">120</text>
<path d="M283.3 525.5H286M284.6 512.5H286M283.3 498.5H286M284.6 485.5H286M283.3 472.5H286M284.6 458.5H286M283.3 445.5H286M284.6 432.5H286M283.3 418.5H286M284.6 405.5H286M283.3 392.5H286M294.5 525.35V527.95M286.5 525.35V526.65M311.5 525.35V527.95M302.5 525.35V526.65M328.5 525.35V527.95M319.5 525.35V526.65M344.5 525.35V527.95M336.5 525.35V526.65M361.5 525.35V527.95M353.5 525.35V526.65M378.5 525.35V527.95M370.5 525.35V526.65M395.5 525.35V527.95M386.5 525.35V526.65M412.5 525.35V527.95M403.5 525.35V526.65M429.5 525.35V527.95M420.5 525.35V526.65M445.5 525.35V527.95M437.5 525.35V526.65M462.5 525.35V527.95M454.5 525.35V526.65" stroke="#2a2a2a" stroke-width="0.8" fill="none"/>
<text x="373.93" y="545" font-size="6.8" text-anchor="middle">cultivation time (h)</text>
<text transform="translate(269 458.83) rotate(-90)" font-size="6.8" text-anchor="middle">concentration ethanol (ppb)</text>
<rect x="300.95" y="401.7" width="15.1" height="7.6" fill="#fff" stroke="#777" stroke-width="0.5"/>
<rect x="300.95" y="407.7" width="15.1" height="1.4" fill="#d4d4d4"/>
<rect x="300.95" y="409.3" width="15.1" height="8.4" fill="#4a4a4a"/>
<rect x="300.95" y="409.3" width="15.1" height="8.4" fill="url(#hg)" stroke="#444" stroke-width="0.5"/>
<text x="317.65" y="407.5" font-size="6.7">IMI</text>
<text x="317.65" y="416.1" font-size="6.7">P1</text>
<text class="pl" transform="translate(245.6 388) scale(1 1.08)" font-size="13.8">(F)</text>
</g>
</svg></body></html>
